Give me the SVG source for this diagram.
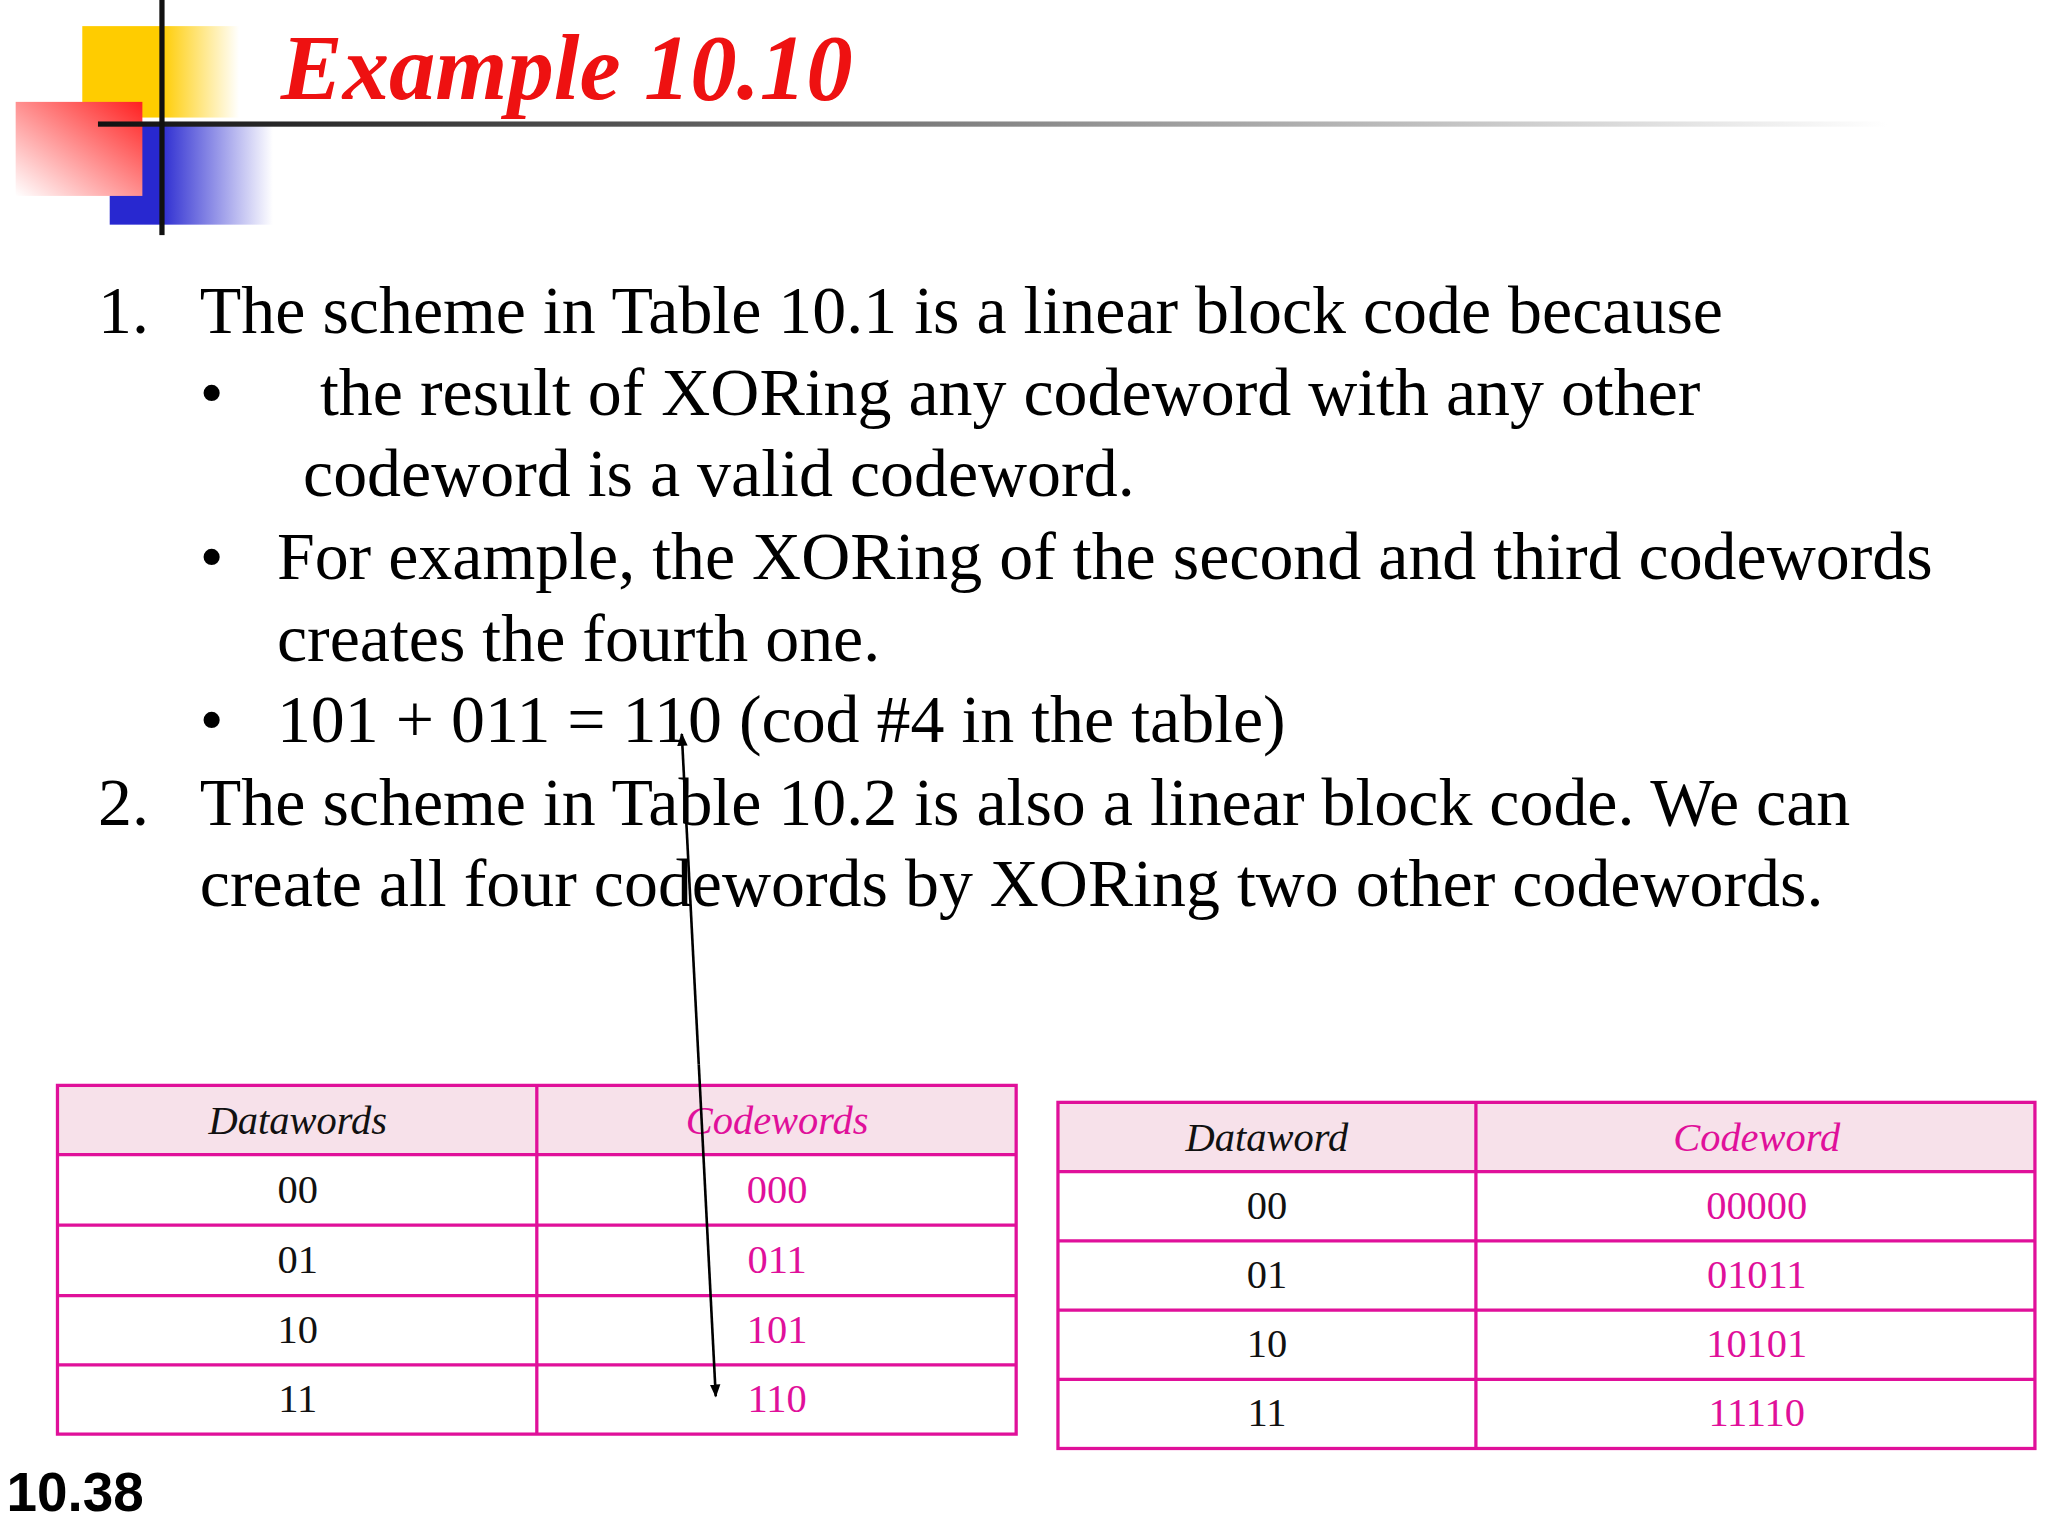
<svg xmlns="http://www.w3.org/2000/svg" width="2048" height="1536" viewBox="0 0 2048 1536">
<style>
.b{font-family:"Liberation Serif",serif;font-size:52px;fill:#000}
.h{font-family:"Liberation Serif",serif;font-style:italic;font-size:31px;text-anchor:middle}
.c{font-family:"Liberation Serif",serif;font-size:31px;text-anchor:middle}
.k{fill:#111}.p{fill:#e0109a}
.tb{fill:none;stroke:#e0109a;stroke-width:2.5}
</style>
<defs>
<linearGradient id="hl" x1="0" x2="1"><stop offset="0" stop-color="#111"/><stop offset="0.3" stop-color="#555"/><stop offset="1" stop-color="#fff"/></linearGradient>
<linearGradient id="yl" x1="0" x2="1"><stop offset="0.5" stop-color="#ffcc00"/><stop offset="1" stop-color="#fff"/></linearGradient>
<linearGradient id="rd" x1="1" y1="0" x2="0" y2="1"><stop offset="0" stop-color="#ff2020"/><stop offset="1" stop-color="#fff"/></linearGradient>
<linearGradient id="bl" x1="0" x2="1"><stop offset="0.3" stop-color="#2828d0"/><stop offset="1" stop-color="#fff"/></linearGradient>
<marker id="ah" markerWidth="10" markerHeight="10" refX="9" refY="5" orient="auto" markerUnits="userSpaceOnUse"><path d="M0,1 L10,5 L0,9 Z" fill="#000"/></marker>
</defs>
<rect width="2048" height="1536" fill="#fff"/>
<g transform="scale(1.30612)">
<g id="logo">
<rect x="63" y="20" width="120" height="70" fill="url(#yl)"/>
<rect x="84" y="95" width="125" height="77" fill="url(#bl)"/>
<rect x="12" y="78" width="97" height="72" fill="url(#rd)"/>
<rect x="75" y="93" width="1370" height="4" fill="url(#hl)"/>
<rect x="122" y="0" width="4" height="180" fill="#111"/>
</g>
<text id="title" x="215" y="76" font-family="Liberation Serif,serif" font-weight="bold" font-style="italic" font-size="71" fill="#ee1111">Example 10.10</text>
<g id="body">
<text class="b" x="75" y="255">1.</text>
<text class="b" x="153" y="255">The scheme in Table 10.1 is a linear block code because</text>
<text class="b" x="153" y="318">•</text>
<text class="b" x="245" y="318">the result of XORing any codeword with any other</text>
<text class="b" x="232" y="380">codeword is a valid codeword.</text>
<text class="b" x="153" y="443">•</text>
<text class="b" x="212" y="443">For example, the XORing of the second and third codewords</text>
<text class="b" x="212" y="506">creates the fourth one.</text>
<text class="b" x="153" y="568">•</text>
<text class="b" x="212" y="568">101 + 011 = 110 (cod #4 in the table)</text>
<text class="b" x="75" y="632">2.</text>
<text class="b" x="153" y="632">The scheme in Table 10.2 is also a linear block code. We can</text>
<text class="b" x="153" y="694">create all four codewords by XORing two other codewords.</text>
</g>
<g id="table1">
<rect x="44" y="831" width="734" height="53" fill="#f7e1ea"/>
<rect class="tb" x="44" y="831" width="734" height="267"/>
<path class="tb" d="M411,831V1098M44,884H778M44,938H778M44,992H778M44,1045H778"/>
<text class="h k" x="228" y="868">Datawords</text><text class="h p" x="595" y="868">Codewords</text>
<text class="c k" x="228" y="921">00</text><text class="c p" x="595" y="921">000</text>
<text class="c k" x="228" y="975">01</text><text class="c p" x="595" y="975">011</text>
<text class="c k" x="228" y="1028">10</text><text class="c p" x="595" y="1028">101</text>
<text class="c k" x="228" y="1081">11</text><text class="c p" x="595" y="1081">110</text>
</g>
<g id="table2">
<rect x="810" y="844" width="748" height="53" fill="#f7e1ea"/>
<rect class="tb" x="810" y="844" width="748" height="265"/>
<path class="tb" d="M1130,844V1109M810,897H1558M810,950H1558M810,1003H1558M810,1056H1558"/>
<text class="h k" x="970" y="881">Dataword</text><text class="h p" x="1345" y="881">Codeword</text>
<text class="c k" x="970" y="933">00</text><text class="c p" x="1345" y="933">00000</text>
<text class="c k" x="970" y="986">01</text><text class="c p" x="1345" y="986">01011</text>
<text class="c k" x="970" y="1039">10</text><text class="c p" x="1345" y="1039">10101</text>
<text class="c k" x="970" y="1092">11</text><text class="c p" x="1345" y="1092">11110</text>
</g>
<g id="connectors">
<line x1="535" y1="815" x2="522" y2="562" stroke="#000" stroke-width="2" marker-end="url(#ah)"/>
<line x1="535" y1="815" x2="548" y2="1069" stroke="#000" stroke-width="2" marker-end="url(#ah)"/>
</g>
<text id="page" x="5" y="1157" font-family="Liberation Sans,sans-serif" font-weight="bold" font-size="42" fill="#000">10.38</text>
</g>
</svg>
